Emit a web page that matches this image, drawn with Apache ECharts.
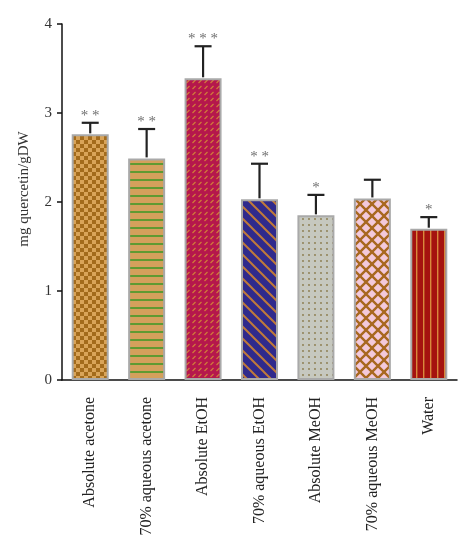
<!DOCTYPE html>
<html>
<head>
<meta charset="utf-8">
<title>quercetin</title>
<script src="https://cdn.jsdelivr.net/npm/echarts@6/dist/echarts.min.js"></script>
<style>
  html, body { margin: 0; padding: 0; background: #fff; }
  #main { width: 474px; height: 555px; }
</style>
</head>
<body>
<div id="main"></div>
<script type="text/javascript">
var categories = ['Absolute acetone', '70% aqueous acetone', 'Absolute EtOH', '70% aqueous EtOH',
                  'Absolute MeOH', '70% aqueous MeOH', 'Water'];
var means = [2.76, 2.49, 3.39, 2.03, 1.85, 2.04, 1.70];
var errors = [0.13, 0.33, 0.36, 0.40, 0.23, 0.21, 0.13];
var stars = ['* *', '* *', '* * *', '* *', '*', '', '*'];
var yTicks = [0, 1, 2, 3, 4];

// small canvas tiles for the bar fills
function tile(w, h, draw) {
  var c = document.createElement('canvas');
  c.width = w; c.height = h;
  draw(c.getContext('2d'), w, h);
  return { image: c, repeat: 'repeat' };
}

var fills = [
  tile(8, 8, function (g) {
    g.fillStyle = '#d9a459'; g.fillRect(0, 0, 8, 8);
    g.fillStyle = '#a36b1c'; g.fillRect(0, 0, 4, 4); g.fillRect(4, 4, 4, 4);
  }),
  tile(8, 8, function (g) {
    g.fillStyle = '#d4a05c'; g.fillRect(0, 0, 8, 8);
    g.fillStyle = '#5f9a32'; g.fillRect(0, 3, 8, 2);
  }),
  tile(6, 6, function (g) {
    g.fillStyle = '#b5174c'; g.fillRect(0, 0, 6, 6);
    g.strokeStyle = '#cf7a3c'; g.lineWidth = 1.3;
    g.beginPath(); g.moveTo(0.5, 5); g.lineTo(3.5, 2); g.stroke();
  }),
  tile(12, 12, function (g) {
    g.fillStyle = '#302a8c'; g.fillRect(0, 0, 12, 12);
    g.strokeStyle = '#c07a3a'; g.lineWidth = 2;
    g.beginPath();
    g.moveTo(-2, -2); g.lineTo(14, 14);
    g.moveTo(-2, 10); g.lineTo(2, 14);
    g.moveTo(10, -2); g.lineTo(14, 2);
    g.stroke();
  }),
  tile(6, 6, function (g) {
    g.fillStyle = '#c6c8bf'; g.fillRect(0, 0, 6, 6);
    g.fillStyle = '#8a7a4a';
    g.beginPath(); g.arc(3, 3, 0.9, 0, Math.PI * 2); g.fill();
  }),
  tile(12, 12, function (g) {
    g.fillStyle = '#f3c9da'; g.fillRect(0, 0, 12, 12);
    g.strokeStyle = '#a8681f'; g.lineWidth = 2.4;
    g.beginPath();
    g.moveTo(-2, -2); g.lineTo(14, 14);
    g.moveTo(14, -2); g.lineTo(-2, 14);
    g.stroke();
  }),
  tile(7, 7, function (g) {
    g.fillStyle = '#a5130f'; g.fillRect(0, 0, 7, 7);
    g.fillStyle = '#d98a3c'; g.fillRect(3, 0, 1.4, 7);
  })
];

var barData = means.map(function (v, i) {
  return { value: v, itemStyle: { color: fills[i] } };
});
var errData = means.map(function (v, i) { return [i, v, errors[i]]; });

var serif = "'Liberation Serif', 'DejaVu Serif', serif";
var myChart = echarts.init(document.getElementById('main'));
var option = {
  animation: false,
  grid: { left: 62, right: 17, top: 24, bottom: 175, containLabel: false },
  xAxis: {
    type: 'category',
    data: categories,
    axisLine: { lineStyle: { color: '#111', width: 1.5 } },
    axisTick: { alignWithLabel: true, length: 5, lineStyle: { color: '#111', width: 1.5 } },
    axisLabel: { rotate: 90, interval: 0, margin: 17, fontFamily: serif, fontSize: 16, color: '#222' }
  },
  yAxis: {
    type: 'value',
    min: yTicks[0], max: yTicks[yTicks.length - 1], interval: 1,
    name: 'mg quercetin/gDW',
    nameLocation: 'middle',
    nameGap: 30,
    nameTextStyle: { fontFamily: serif, fontSize: 15, color: '#333', padding: [0, 0, 0, 26] },
    splitLine: { show: false },
    axisLine: { show: true, lineStyle: { color: '#111', width: 1.5 } },
    axisTick: { show: true, length: 5, lineStyle: { color: '#111', width: 1.5 } },
    axisLabel: { margin: 10, fontFamily: serif, fontSize: 15, color: '#333' }
  },
  series: [
    {
      type: 'bar',
      data: barData,
      barWidth: 37,
      itemStyle: { borderColor: '#a9a9a9', borderWidth: 2 },
      z: 2
    },
    {
      type: 'custom',
      data: errData,
      z: 3,
      renderItem: function (params, api) {
        var x = api.value(0), v = api.value(1), e = api.value(2);
        var p0 = api.coord([x, v]);
        var p1 = api.coord([x, v + e]);
        var half = 8.5;
        var st = { stroke: '#222', lineWidth: 2.2 };
        return {
          type: 'group',
          children: [
            { type: 'line', shape: { x1: p0[0], y1: p0[1] - 1, x2: p1[0], y2: p1[1] }, style: st },
            { type: 'line', shape: { x1: p1[0] - half, y1: p1[1], x2: p1[0] + half, y2: p1[1] }, style: st },
            { type: 'text', style: {
                text: stars[params.dataIndex], x: p1[0], y: p1[1] - 7,
                align: 'center', verticalAlign: 'middle',
                fill: '#6f6f6f', font: '15px ' + serif
            } }
          ]
        };
      }
    }
  ]
};
myChart.setOption(option);
</script>
</body>
</html>
